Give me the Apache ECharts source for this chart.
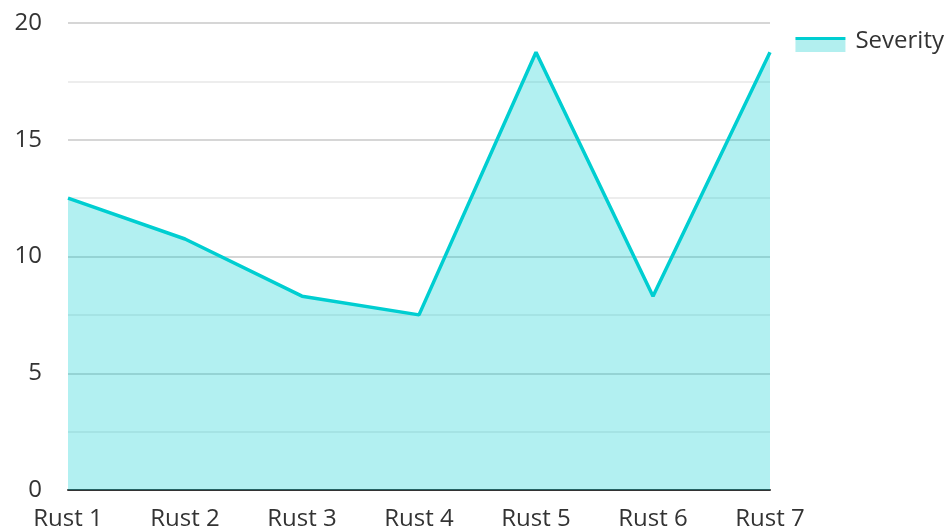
<!DOCTYPE html>
<html>
<head>
<meta charset="utf-8">
<script src="https://cdn.jsdelivr.net/npm/echarts@6/dist/echarts.min.js"></script>
<style>
  html, body { margin: 0; padding: 0; background: #fff; }
  #main { width: 949px; height: 531px; }
</style>
</head>
<body>
<div id="main"></div>
<script>
var categories = ['Rust 1', 'Rust 2', 'Rust 3', 'Rust 4', 'Rust 5', 'Rust 6', 'Rust 7'];
var severity = [12.5, 10.75, 8.3, 7.5, 18.75, 8.3, 18.75];

window.addEventListener('load', function () {
    var chart = echarts.init(document.getElementById('main'));
    var font = '"Open Sans", "Noto Sans", sans-serif';
    // legend swatch: line on top of a filled area, lowered a bit like the original
    var swatch = new echarts.graphic.LinearGradient(0, 0, 0, 1, [
        { offset: 0, color: 'rgba(255,255,255,0)' },
        { offset: 0.32, color: 'rgba(255,255,255,0)' },
        { offset: 0.32, color: '#00CED1' },
        { offset: 0.46, color: '#00CED1' },
        { offset: 0.46, color: '#b2efef' },
        { offset: 1, color: '#b2efef' }
    ]);
    chart.setOption({
        animation: false,
        textStyle: { fontFamily: font },
        legend: {
            right: 0,
            top: 24,
            icon: 'rect',
            itemWidth: 50,
            itemHeight: 22,
            itemGap: 10,
            itemStyle: { color: swatch, borderWidth: 0 },
            lineStyle: { width: 0 },
            textStyle: { fontSize: 24, color: '#333', fontFamily: font, padding: [0, 0, 0, 5] },
            data: ['Severity']
        },
        grid: { left: 68, right: 179, top: 23, bottom: 41 },
        xAxis: {
            type: 'category',
            data: categories,
            boundaryGap: false,
            axisLine: { lineStyle: { color: '#333', width: 2 } },
            axisTick: { show: false },
            axisLabel: { fontSize: 24, color: '#333', margin: 17 }
        },
        yAxis: {
            type: 'value',
            min: 0,
            max: 20,
            interval: 5,
            axisLine: { show: false },
            axisTick: { show: false },
            axisLabel: { fontSize: 24, color: '#333', margin: 26 },
            splitLine: { lineStyle: { color: '#c8c8c8', width: 1.5 } },
            minorTick: { show: false, splitNumber: 2 },
            minorSplitLine: { show: true, lineStyle: { color: '#e8e8e8', width: 1.5 } }
        },
        series: [{
            name: 'Severity',
            type: 'line',
            data: severity,
            symbol: 'none',
            lineStyle: { color: '#00CED1', width: 3.5 },
            itemStyle: { color: '#00CED1' },
            areaStyle: { color: '#00CED1', opacity: 0.3 }
        }]
    });
});
</script>
</body>
</html>
